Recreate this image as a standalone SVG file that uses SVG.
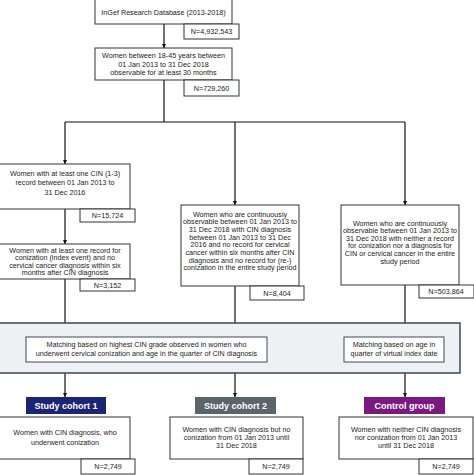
<svg xmlns="http://www.w3.org/2000/svg" width="474" height="475" viewBox="0 0 474 475">
<defs>
<marker id="ah" viewBox="0 0 10 10" refX="10" refY="5" markerWidth="4.5" markerHeight="4.5" orient="auto" markerUnits="userSpaceOnUse">
<path d="M0,0 L10,5 L0,10 z" fill="#111"/>
</marker>
<style>
.box{fill:#fff;stroke:#333;stroke-width:1}
.t{font-family:"Liberation Sans",Arial,sans-serif;font-size:7.2px;fill:#222;text-anchor:middle}
.h{font-family:"Liberation Sans",Arial,sans-serif;font-size:9px;font-weight:bold;fill:#fff;text-anchor:middle}
.c{fill:none;stroke:#111;stroke-width:1.2}
</style>
</defs>
<rect width="474" height="475" fill="#fff"/>

<g id="connectors">
<line class="c" x1="164" y1="24" x2="164" y2="48" marker-end="url(#ah)"/>
<polyline class="c" points="164,80 164,122"/>
<polyline class="c" points="65,122 405,122"/>
<line class="c" x1="65" y1="122" x2="65" y2="164" marker-end="url(#ah)"/>
<line class="c" x1="235" y1="122" x2="235" y2="205" marker-end="url(#ah)"/>
<line class="c" x1="405" y1="122" x2="405" y2="205" marker-end="url(#ah)"/>
<line class="c" x1="65" y1="209" x2="65" y2="244" marker-end="url(#ah)"/>
<line class="c" x1="65" y1="279" x2="65" y2="323"/>
<line class="c" x1="235" y1="286" x2="235" y2="323"/>
<line class="c" x1="405" y1="285" x2="405" y2="323"/>
<line class="c" x1="65" y1="373" x2="65" y2="397" marker-end="url(#ah)"/>
<line class="c" x1="235" y1="373" x2="235" y2="397" marker-end="url(#ah)"/>
<line class="c" x1="405" y1="373" x2="405" y2="397" marker-end="url(#ah)"/>
</g>

<g id="db">
<rect class="box" x="95" y="-1" width="137" height="25"/>
<text class="t" x="163.5" y="15">InGef Research Database (2013-2018)</text>
<rect class="box" x="184" y="24" width="55" height="15"/>
<text class="t" x="211.5" y="34">N=4,932,543</text>
</g>

<g id="women1845">
<rect class="box" x="95" y="48" width="137" height="32"/>
<text class="t" x="163.5" y="58">Women between 18-45 years between</text>
<text class="t" x="163.5" y="66.5">01 Jan 2013 to 31 Dec 2018</text>
<text class="t" x="163.5" y="75">observable for at least 30 months</text>
<rect class="box" x="184" y="80" width="55" height="16"/>
<text class="t" x="211.5" y="90.5">N=729,260</text>
</g>

<g id="cin">
<rect class="box" x="-1" y="164" width="131" height="45"/>
<text class="t" x="65" y="176">Women with at least one CIN (1-3)</text>
<text class="t" x="65" y="185">record between 01 Jan 2013 to</text>
<text class="t" x="65" y="194.5">31 Dec 2016</text>
<rect class="box" x="80" y="209" width="55" height="13"/>
<text class="t" x="107.5" y="218">N=15,724</text>
</g>

<g id="conization">
<rect class="box" x="-1" y="244" width="131" height="35"/>
<text class="t" x="65" y="252.5">Women with at least one record for</text>
<text class="t" x="65" y="260">conization (index event) and no</text>
<text class="t" x="65" y="267.5">cervical cancer diagnosis within six</text>
<text class="t" x="65" y="275">months after CIN diagnosis</text>
<rect class="box" x="80" y="279" width="55" height="12"/>
<text class="t" x="107.5" y="287.5">N=3,152</text>
</g>

<g id="noconization">
<rect class="box" x="181" y="205" width="118" height="81"/>
<text class="t" x="240" y="216.5">Women who are continuously</text>
<text class="t" x="240" y="224.2">observable between 01 Jan 2013 to</text>
<text class="t" x="240" y="231.9">31 Dec 2018 with CIN diagnosis</text>
<text class="t" x="240" y="239.6">between 01 Jan 2013 to 31 Dec</text>
<text class="t" x="240" y="247.3">2016 and no record for cervical</text>
<text class="t" x="240" y="255">cancer within six months after CIN</text>
<text class="t" x="240" y="262.7">diagnosis and no record for (re-)</text>
<text class="t" x="240" y="270.4">conization in the entire study period</text>
<rect class="box" x="250" y="286" width="54" height="14"/>
<text class="t" x="277" y="295.5">N=8,404</text>
</g>

<g id="neither">
<rect class="box" x="341" y="205" width="118" height="80"/>
<text class="t" x="400" y="225.5">Women who are continuously</text>
<text class="t" x="400" y="233.2">observable between 01 Jan 2013 to</text>
<text class="t" x="400" y="240.9">31 Dec 2018 with neither a record</text>
<text class="t" x="400" y="248.4">for conization nor a diagnosis for</text>
<text class="t" x="400" y="256">CIN or cervical cancer in the entire</text>
<text class="t" x="400" y="263.7">study period</text>
<rect class="box" x="419" y="285" width="55" height="13"/>
<text class="t" x="446" y="294">N=503,864</text>
</g>

<g id="matching">
<rect x="-1" y="323" width="461" height="50" fill="#eef0f3" stroke="#3a4a5c" stroke-width="1.5"/>
<rect x="26" y="337" width="241" height="25" fill="#fff" stroke="#3a4a5c" stroke-width="1"/>
<text class="t" x="146.5" y="347">Matching based on highest CIN grade observed in women who</text>
<text class="t" x="146.5" y="356">underwent cervical conization and age in the quarter of CIN diagnosis</text>
<rect x="344" y="337" width="100" height="25" fill="#fff" stroke="#3a4a5c" stroke-width="1"/>
<text class="t" x="394" y="347">Matching based on age in</text>
<text class="t" x="394" y="356">quarter of virtual index date</text>
</g>

<g id="cohort1">
<rect x="26" y="397" width="80" height="17" fill="#1c2475"/>
<text class="h" x="66" y="409">Study cohort 1</text>
<rect class="box" x="-1" y="417" width="131" height="42"/>
<text class="t" x="65" y="435">Women with CIN diagnosis, who</text>
<text class="t" x="65" y="444.5">underwent conization</text>
<rect class="box" x="81" y="459" width="54" height="15"/>
<text class="t" x="108" y="469">N=2,749</text>
</g>

<g id="cohort2">
<rect x="195" y="397" width="81" height="17" fill="#5a6469"/>
<text class="h" x="235.5" y="409">Study cohort 2</text>
<rect class="box" x="170" y="417" width="133" height="42"/>
<text class="t" x="236.5" y="431.5">Women with CIN diagnosis but no</text>
<text class="t" x="236.5" y="439.5">conization from 01 Jan 2013 until</text>
<text class="t" x="236.5" y="447.5">31 Dec 2018</text>
<rect class="box" x="249" y="459" width="54" height="15"/>
<text class="t" x="276" y="469">N=2,749</text>
</g>

<g id="control">
<rect x="364" y="397" width="81" height="17" fill="#7a1a80"/>
<text class="h" x="404.5" y="409">Control group</text>
<rect class="box" x="339" y="417" width="134" height="42"/>
<text class="t" x="406" y="431.5">Women with neither CIN diagnosis</text>
<text class="t" x="406" y="439.5">nor conization from 01 Jan 2013</text>
<text class="t" x="406" y="447.5">until 31 Dec 2018</text>
<rect class="box" x="419" y="459" width="54" height="15"/>
<text class="t" x="446" y="469">N=2,749</text>
</g>
</svg>
